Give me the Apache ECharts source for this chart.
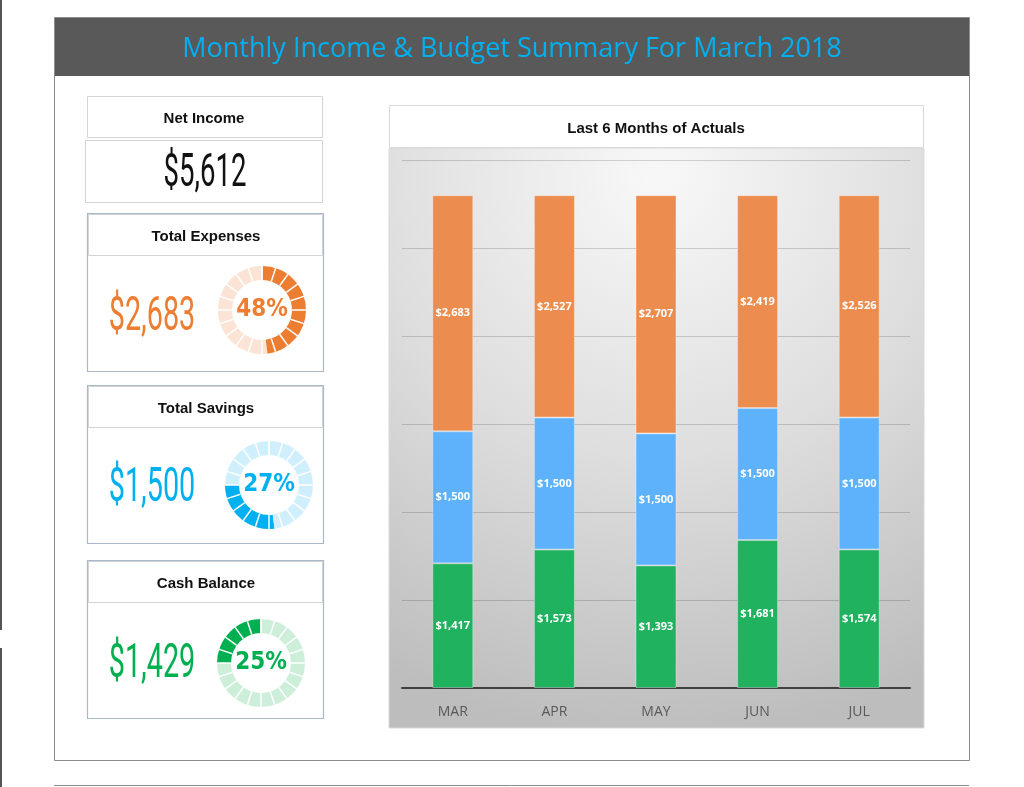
<!DOCTYPE html>
<html>
<head>
<meta charset="utf-8">
<title>Monthly Income & Budget Summary</title>
<script src="https://cdn.jsdelivr.net/npm/echarts@6/dist/echarts.min.js"></script>
<style>
  html, body { margin: 0; padding: 0; background: #fff; }
  #main { width: 1024px; height: 787px; }
</style>
</head>
<body>
<div id="main"></div>
<script>
// bar chart data
const months = ['MAR', 'APR', 'MAY', 'JUN', 'JUL'];
const cashValues = [1417, 1573, 1393, 1681, 1574];
const savingsValues = [1500, 1500, 1500, 1500, 1500];
const expenseValues = [2683, 2527, 2707, 2419, 2526];
const yMax = 6000;
const yStep = 1000;

// KPI cards
const netIncome = 5612;
const kpiNames = ['Total Expenses', 'Total Savings', 'Cash Balance'];
const kpiAmounts = [2683, 1500, 1429];
const kpiPercents = [48, 27, 25];

// colours per card
const darkColors = ['#ED7D31', '#00B0F0', '#00B050'];
const lightColors = ['#FBE4D5', '#CFEFFC', '#CDEFDA'];

const money = v => '$' + v.toLocaleString('en-US');

// card geometry (layout only)
const cardTops = [213, 385, 560];
const gaugeCenters = [[262, 310], [269, 485], [261, 663]];
const amountY = [318, 489, 665];

const chart = echarts.init(document.getElementById('main'));

// gauges - ring split by white lines, the highlighted part follows the order of the parts
let start = 0;
const gauges = kpiPercents.map((p, i) => {
  const s = start / 100;
  const e = (start + p) / 100;
  start += p;
  const stops = [];
  if (s > 0) stops.push([s, lightColors[i]]);
  stops.push([e, darkColors[i]]);
  stops.push([1, lightColors[i]]);
  return {
    type: 'gauge',
    center: gaugeCenters[i],
    radius: 44,
    startAngle: 90,
    endAngle: -270,
    min: 0,
    max: 100,
    splitNumber: 20,
    silent: true,
    axisLine: { lineStyle: { width: 14, color: stops } },
    splitLine: { length: 14, distance: -14, lineStyle: { color: '#fff', width: 1.5 } },
    axisTick: { show: false },
    axisLabel: { show: false },
    pointer: { show: false },
    progress: { show: false },
    anchor: { show: false },
    title: { show: false },
    detail: {
      offsetCenter: [0, 0],
      formatter: '{value}%',
      fontFamily: 'DejaVu Sans Condensed',
      fontWeight: 'bold',
      fontSize: 24,
      color: darkColors[i]
    },
    data: [{ value: p }]
  };
});

// boxes and texts
const graphics = [
  // page frame
  { type: 'rect', shape: { x: 54.5, y: 17.5, width: 915, height: 743 }, style: { fill: '#fff', stroke: '#8c8c8c', lineWidth: 1 }, z: -10 },
  { type: 'rect', shape: { x: 55, y: 18, width: 914, height: 58 }, style: { fill: '#595959' }, z: -9 },
  { type: 'text', x: 512, y: 49, style: { text: 'Monthly Income & Budget Summary For March 2018', fill: '#00B0F0', font: '27px "Open Sans"', textAlign: 'center', textVerticalAlign: 'middle' }, z: -8 },
  { type: 'line', shape: { x1: 1, y1: 0, x2: 1, y2: 630 }, style: { stroke: '#555', lineWidth: 2 } },
  { type: 'line', shape: { x1: 1, y1: 648, x2: 1, y2: 787 }, style: { stroke: '#555', lineWidth: 2 } },
  { type: 'line', shape: { x1: 54, y1: 785.5, x2: 969, y2: 785.5 }, style: { stroke: '#8c8c8c', lineWidth: 1 } },

  // net income
  { type: 'rect', shape: { x: 87.5, y: 96.5, width: 235, height: 41 }, style: { fill: '#fff', stroke: '#d4d4d4' } },
  { type: 'text', x: 204, y: 119, style: { text: 'Net Income', fill: '#111', font: 'bold 15px "Liberation Sans"', textAlign: 'center', textVerticalAlign: 'middle' } },
  { type: 'rect', shape: { x: 85.5, y: 140.5, width: 237, height: 62 }, style: { fill: '#fff', stroke: '#d4d4d4' } },
  { type: 'text', x: 205, y: 174, scaleX: 0.6, style: { text: money(netIncome), fill: '#111', font: '400 46px Roboto', textAlign: 'center', textVerticalAlign: 'middle' } },

  // chart panel
  { type: 'rect', shape: { x: 389.5, y: 105.5, width: 534, height: 42 }, style: { fill: '#fff', stroke: '#d9d9d9' } },
  { type: 'text', x: 656, y: 129, style: { text: 'Last 6 Months of Actuals', fill: '#111', font: 'bold 15px "Liberation Sans"', textAlign: 'center', textVerticalAlign: 'middle' } },
  {
    type: 'rect', shape: { x: 389, y: 148, width: 535, height: 580 }, z: -5,
    style: {
      fill: new echarts.graphic.RadialGradient(0.5, 0.05, 1.05, [
        { offset: 0, color: '#f8f8f8' },
        { offset: 0.5, color: '#dedede' },
        { offset: 1, color: '#bdbdbd' }
      ]),
      stroke: '#d9d9d9'
    }
  }
];

kpiNames.forEach((name, i) => {
  const top = cardTops[i];
  graphics.push(
    { type: 'rect', shape: { x: 87.5, y: top + 0.5, width: 236, height: 158 }, style: { fill: '#fff', stroke: '#a8b7c9', lineWidth: 1.2 } },
    { type: 'rect', shape: { x: 88.5, y: top + 1.5, width: 234, height: 41 }, style: { fill: '#fff', stroke: '#d4d4d4' } },
    { type: 'text', x: 206, y: top + 24, style: { text: name, fill: '#111', font: 'bold 15px "Liberation Sans"', textAlign: 'center', textVerticalAlign: 'middle' } },
    { type: 'text', x: 152, y: amountY[i], scaleX: 0.6, style: { text: money(kpiAmounts[i]), fill: darkColors[i], font: '400 48px Roboto', textAlign: 'center', textVerticalAlign: 'middle' } }
  );
});

const barLabel = {
  show: true,
  position: 'inside',
  color: '#fff',
  fontFamily: 'Open Sans',
  fontWeight: 'bold',
  fontSize: 11,
  formatter: p => money(p.value)
};

const barSeries = [
  { name: 'Cash Balance', data: cashValues, color: '#21B25F' },
  { name: 'Savings', data: savingsValues, color: '#5EB2FB' },
  { name: 'Expenses', data: expenseValues, color: '#EC8D4F' }
].map(s => ({
  name: s.name,
  type: 'bar',
  stack: 'total',
  barWidth: 41,
  data: s.data,
  itemStyle: { color: s.color, borderColor: 'rgba(255,255,255,0.35)', borderWidth: 1 },
  label: barLabel,
  z: 3
}));

const option = {
  animation: false,
  graphic: graphics,
  grid: { left: 402, right: 114, top: 160, bottom: 99, containLabel: false },
  xAxis: {
    type: 'category',
    data: months,
    axisLine: { lineStyle: { color: '#404040', width: 2 } },
    axisTick: { show: false },
    axisLabel: { color: '#595959', fontSize: 14, fontFamily: 'Open Sans', margin: 17 }
  },
  yAxis: {
    type: 'value',
    min: 0,
    max: yMax,
    interval: yStep,
    axisLine: { show: false },
    axisTick: { show: false },
    axisLabel: { show: false },
    splitLine: { lineStyle: { color: 'rgba(0,0,0,0.16)', width: 1 } }
  },
  series: [...barSeries, ...gauges]
};

chart.setOption(option);
</script>
</body>
</html>
